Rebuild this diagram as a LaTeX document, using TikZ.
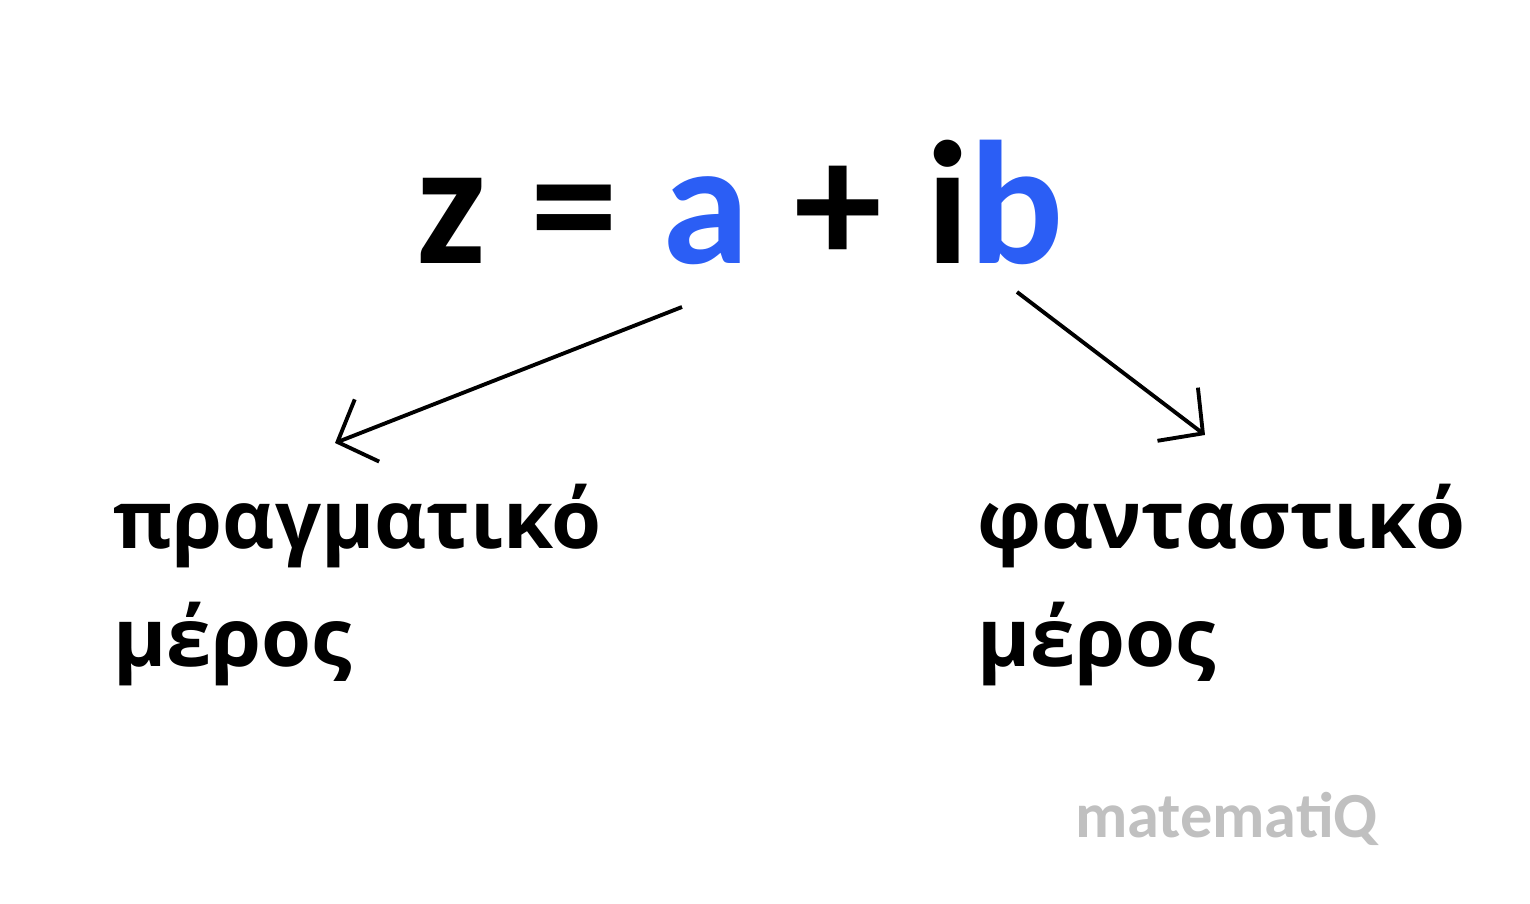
\documentclass[tikz,border=0pt]{standalone}
\usepackage{fontspec}
\setmainfont{Carlito}
\newfontfamily\greekfont{Open Sans}
\newfontfamily\formulafont[WordSpace=1.12]{Carlito}
\usetikzlibrary{arrows.meta}
\definecolor{partblue}{RGB}{43,94,245}
\definecolor{markgray}{RGB}{192,192,192}

\begin{document}
\begin{tikzpicture}[x=0.01cm,y=-0.01cm,>={Straight Barb[length=9pt,width=19pt]},
	every node/.style={inner sep=0pt,outer sep=0pt},
	part/.style={anchor=base west,align=left,font=\greekfont\fontsize{23}{33.8}\selectfont\bfseries},]
		\useasboundingbox (0,0) rectangle (1530,904);
		% create the nodes
		\node (zab) [anchor=base,font=\formulafont\fontsize{50}{60}\selectfont\bfseries] at (740,264)
			{z = \textcolor{partblue}{a} + i\textcolor{partblue}{b}};
		\node (real) [part] at (113,667) {πραγματικό\\μέρος};
		\node (imag) [part] at (977,667) {φανταστικό\\μέρος};
		\node (mark) [anchor=base west,text=markgray,font=\fontsize{18.3}{22}\selectfont\bfseries] at (1075,838) {matematiQ};
		
		\coordinate (afoot) at (682,307);
		\coordinate (atip) at (335,443);
		\coordinate (bfoot) at (1017,292);
		\coordinate (btip) at (1205,435);
		
		% connect the nodes
		\draw[->,line width=1.1pt] (afoot) to (atip);
		\draw[->,line width=1.1pt] (bfoot) to (btip);
		
	\end{tikzpicture}
\end{document}
